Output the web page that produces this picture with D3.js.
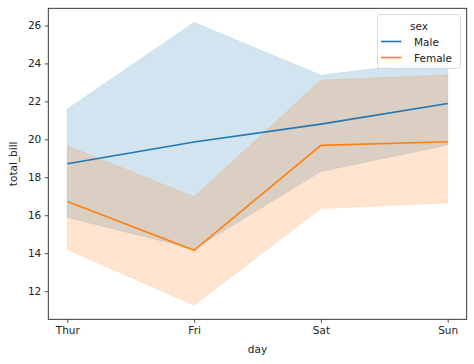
<!DOCTYPE html>
<html>
<head>
<meta charset="utf-8">
<script src="https://cdn.jsdelivr.net/npm/d3@7"></script>
<style>
  body { margin: 0; background: #fff; }
  text { font-family: "DejaVu Sans", sans-serif; fill: #222; }
</style>
</head>
<body>
<div class="vis-lineChart"></div>
<script>
// tips data: mean total_bill by day, with 95% CI bands
const days = ["Thur", "Fri", "Sat", "Sun"];
const maleMean = [18.71, 19.86, 20.80, 21.89];
const maleLow = [15.88, 14.22, 18.30, 19.70];
const maleHigh = [21.60, 26.16, 23.38, 24.20];
const femaleMean = [16.72, 14.15, 19.68, 19.87];
const femaleLow = [14.20, 11.26, 16.35, 16.65];
const femaleHigh = [19.66, 16.97, 23.12, 23.40];
const yTicks = [12, 14, 16, 18, 20, 22, 24, 26];

const series = [
    {name: "Male", color: "#1f77b4", mean: maleMean, low: maleLow, high: maleHigh},
    {name: "Female", color: "#ff7f0e", mean: femaleMean, low: femaleLow, high: femaleHigh}
];

var W = 474, H = 364;
var margin = {top: 8.3, right: 7.3, bottom: 44.7, left: 48.3},
    width = W - margin.left - margin.right,
    height = H - margin.top - margin.bottom;

const svg = d3.select('.vis-lineChart').append('svg')
    .attr("width", W)
    .attr("height", H);

const g = svg.append("g")
    .attr("transform", "translate(" + margin.left + "," + margin.top + ")");

var x = d3.scalePoint()
    .domain(days)
    .range([0, width])
    .padding(0.15);

// matplotlib style 5% margins around the data extent
var all = maleLow.concat(maleHigh, femaleLow, femaleHigh);
var lo = d3.min(all), hi = d3.max(all), pad = (hi - lo) * 0.05;
var y = d3.scaleLinear()
    .domain([lo - pad, hi + pad])
    .range([height, 0]);

// CI bands first
series.forEach(function(s) {
    var area = d3.area()
        .x(function(d, i) { return x(days[i]); })
        .y0(function(d, i) { return y(s.low[i]); })
        .y1(function(d, i) { return y(s.high[i]); });
    g.append("path")
        .datum(s.mean)
        .attr("d", area)
        .attr("fill", s.color)
        .attr("fill-opacity", 0.2)
        .attr("stroke", s.color)
        .attr("stroke-opacity", 0.12)
        .attr("stroke-width", 1);
});

// mean lines
series.forEach(function(s) {
    var line = d3.line()
        .x(function(d, i) { return x(days[i]); })
        .y(function(d) { return y(d); });
    g.append("path")
        .datum(s.mean)
        .attr("d", line)
        .attr("fill", "none")
        .attr("stroke", s.color)
        .attr("stroke-width", 1.6);
});

// axes
var xAxis = g.append("g")
    .attr("transform", "translate(0," + height + ")")
    .call(d3.axisBottom(x).tickSize(3.5).tickPadding(3.5).tickSizeOuter(0));
var yAxis = g.append("g")
    .call(d3.axisLeft(y).tickValues(yTicks).tickSize(3.5).tickPadding(3.5).tickSizeOuter(0));

[xAxis, yAxis].forEach(function(a) {
    a.select(".domain").remove();
    a.selectAll("line").attr("stroke", "#222").attr("stroke-width", 0.8);
    a.selectAll("text").style("font-size", "10.5px").attr("fill", "#222");
});

// frame
g.append("rect")
    .attr("width", width)
    .attr("height", height)
    .attr("fill", "none")
    .attr("stroke", "#222")
    .attr("stroke-width", 0.9);

// axis labels
svg.append("text")
    .attr("x", margin.left + width / 2)
    .attr("y", 353)
    .attr("text-anchor", "middle")
    .style("font-size", "10.5px")
    .text("day");

svg.append("text")
    .attr("transform", "translate(17," + (margin.top + height / 2) + ") rotate(-90)")
    .attr("text-anchor", "middle")
    .style("font-size", "10.5px")
    .text("total_bill");

// legend
const leg = svg.append("g").attr("transform", "translate(377.5,14.5)");
leg.append("rect")
    .attr("width", 83)
    .attr("height", 54)
    .attr("rx", 3)
    .attr("fill", "#fff")
    .attr("fill-opacity", 0.8)
    .attr("stroke", "#d0d0d0")
    .attr("stroke-width", 0.8);
leg.append("text")
    .attr("x", 41.5)
    .attr("y", 15)
    .attr("text-anchor", "middle")
    .style("font-size", "10.5px")
    .text("sex");
series.forEach(function(s, i) {
    var yy = 27 + i * 16;
    leg.append("line")
        .attr("x1", 3.5).attr("x2", 24)
        .attr("y1", yy).attr("y2", yy)
        .attr("stroke", s.color)
        .attr("stroke-width", 1.6);
    leg.append("text")
        .attr("x", 36.5)
        .attr("y", yy + 4)
        .style("font-size", "10.5px")
        .text(s.name);
});
</script>
</body>
</html>
